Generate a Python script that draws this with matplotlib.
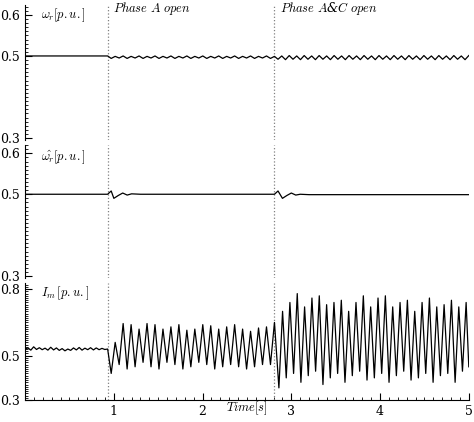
import numpy as np
import matplotlib
matplotlib.use("Agg")
import matplotlib.pyplot as plt
from matplotlib.ticker import MultipleLocator, FixedLocator

plt.rcParams['mathtext.fontset'] = 'cm'
plt.rcParams['font.family'] = 'DejaVu Serif'

t_faultA = 0.93
t_faultAC = 2.81

# ---- I_m data (extrema) ----
im_pre = [0.53, 0.535, 0.525, 0.54, 0.528, 0.536, 0.527, 0.534, 0.525, 0.538, 0.526, 0.535,
          0.524, 0.532, 0.522, 0.53, 0.524, 0.535, 0.526, 0.537, 0.525, 0.534, 0.527, 0.536,
          0.526, 0.535, 0.527, 0.533, 0.528, 0.53]
im_A_troughs = [0.42, 0.46, 0.44, 0.45, 0.47, 0.45, 0.44, 0.47, 0.46, 0.44, 0.45,
                0.47, 0.46, 0.44, 0.45, 0.46, 0.45, 0.44, 0.45, 0.46, 0.46]
im_A_peaks = [0.56, 0.645, 0.64, 0.62, 0.645, 0.64, 0.62, 0.63, 0.64, 0.615, 0.62,
              0.64, 0.635, 0.62, 0.63, 0.64, 0.62, 0.61, 0.625, 0.63, 0.65]
im_AC_troughs = [0.355, 0.40, 0.42, 0.38, 0.41, 0.43, 0.37, 0.40, 0.42, 0.38, 0.41, 0.43, 0.39,
                 0.40, 0.42, 0.38, 0.41, 0.43, 0.39, 0.40, 0.42, 0.38, 0.41, 0.42, 0.38, 0.43]
im_AC_peaks = [0.70, 0.74, 0.78, 0.72, 0.76, 0.77, 0.73, 0.74, 0.75, 0.70, 0.74, 0.77, 0.72,
               0.76, 0.77, 0.72, 0.74, 0.75, 0.70, 0.74, 0.76, 0.72, 0.73, 0.75, 0.72, 0.74]
im_end = 0.45

# ---- omega_r data ----
w_pre = [0.5, 0.5]
w_A = [0.494, 0.499, 0.495, 0.500, 0.494, 0.499, 0.495, 0.500, 0.494, 0.499, 0.495, 0.500,
       0.494, 0.499, 0.495, 0.500, 0.494, 0.499, 0.495, 0.500, 0.494, 0.499, 0.495, 0.500,
       0.494, 0.499, 0.495, 0.500, 0.494, 0.499, 0.495, 0.500, 0.494, 0.499, 0.495, 0.500,
       0.494, 0.499, 0.495, 0.500, 0.494, 0.499]
w_AC = [0.492, 0.500, 0.491, 0.501, 0.492, 0.500, 0.491, 0.501, 0.492, 0.500, 0.491, 0.501,
        0.492, 0.500, 0.491, 0.501, 0.492, 0.500, 0.491, 0.501, 0.492, 0.500, 0.491, 0.501,
        0.492, 0.500, 0.491, 0.501, 0.492, 0.500, 0.491, 0.501, 0.492, 0.500, 0.491, 0.501,
        0.492, 0.500, 0.491, 0.501, 0.492, 0.500, 0.491, 0.501, 0.492, 0.500, 0.491, 0.501,
        0.492, 0.500, 0.491, 0.501]

# ---- estimated omega_r data ----
we_t = [0.0, 0.93, 0.97, 1.0, 1.05, 1.1, 1.15, 1.2, 1.3, 2.81, 2.85, 2.9, 2.95, 3.0,
        3.05, 3.1, 3.2, 5.0]
we_v = [0.5, 0.5, 0.508, 0.49, 0.497, 0.503, 0.498, 0.501, 0.5, 0.5, 0.508, 0.49, 0.497,
        0.503, 0.498, 0.5, 0.499, 0.499]


def interleave(a, b):
    out = []
    for x, y in zip(a, b):
        out += [x, y]
    return out


im_A = interleave(im_A_troughs, im_A_peaks)
im_AC = interleave(im_AC_troughs, im_AC_peaks)
t_im = np.concatenate([np.linspace(0.0, t_faultA, len(im_pre)),
                       np.linspace(0.97, t_faultAC, len(im_A)),
                       np.linspace(2.86, 4.97, len(im_AC)), [5.0]])
v_im = np.concatenate([im_pre, im_A, im_AC, [im_end]])

t_w = np.concatenate([[0.0, t_faultA], np.linspace(0.97, t_faultAC, len(w_A)),
                      np.linspace(2.85, 5.0, len(w_AC))])
v_w = np.concatenate([w_pre, w_A, w_AC])

fig = plt.figure(figsize=(4.74, 4.22), dpi=100)
L, W = 0.053, 0.936
ax1 = fig.add_axes([L, 0.668, W, 0.320])
ax2 = fig.add_axes([L, 0.341, W, 0.315])
ax3 = fig.add_axes([L, 0.052, W, 0.277])

for ax in (ax1, ax2, ax3):
    for s in ('top', 'right'):
        ax.spines[s].set_visible(False)
    ax.set_xlim(0, 5)
    ax.xaxis.set_minor_locator(MultipleLocator(0.1))
    ax.yaxis.set_minor_locator(MultipleLocator(0.01))
    ax.tick_params(axis='both', which='major', direction='in', length=5, width=0.8, labelsize=9)
    ax.tick_params(axis='both', which='minor', direction='in', length=2.5, width=0.6)
    ax.axvline(t_faultA, color='gray', ls=':', lw=0.9)
    ax.axvline(t_faultAC, color='gray', ls=':', lw=0.9)
for ax in (ax1, ax2):
    ax.spines['bottom'].set_visible(False)
    ax.tick_params(axis='x', which='both', bottom=False, labelbottom=False)

ax1.plot(t_w, v_w, color='black', lw=0.9)
ax1.set_ylim(0.295, 0.624)
ax1.yaxis.set_major_locator(FixedLocator([0.3, 0.5, 0.6]))
ax1.text(0.18, 0.6, r'$\omega_r[p.u.]$', fontsize=9, va='center')
ax1.text(0.99, 0.615, r'$Phase\ A\ open$', fontsize=9, va='center')
ax1.text(2.87, 0.615, r'$Phase\ A$&$C\ open$', fontsize=9, va='center', style='italic')

ax2.plot(we_t, we_v, color='black', lw=0.9)
ax2.set_ylim(0.295, 0.62)
ax2.yaxis.set_major_locator(FixedLocator([0.3, 0.5, 0.6]))
ax2.text(0.18, 0.59, r'$\hat{\omega_r}[p.u.]$', fontsize=9, va='center')

ax3.plot(t_im, v_im, color='black', lw=0.9)
ax3.set_ylim(0.3, 0.827)
ax3.yaxis.set_major_locator(FixedLocator([0.3, 0.5, 0.8]))
ax3.xaxis.set_major_locator(FixedLocator([1, 2, 3, 4, 5]))
ax3.set_xticklabels(['1', '2', '3', '4', '5'])
ax3.text(0.18, 0.78, r'$I_m\,[p.u.]$', fontsize=9, va='center')
ax3.text(2.5, 0.265, r'$Time[s]$', fontsize=9, ha='center', va='center', clip_on=False)

fig.savefig('out.png', dpi=100)
